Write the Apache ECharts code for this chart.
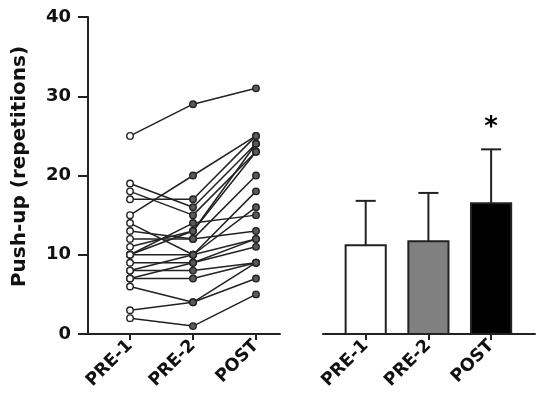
<!DOCTYPE html>
<html><head><meta charset="utf-8">
<script src="https://cdn.jsdelivr.net/npm/echarts@6/dist/echarts.min.js"></script>
<style>html,body{margin:0;padding:0;background:#fff}#c{width:543px;height:415px}</style>
</head><body><div id="c"></div>
<script>
const categories = ['PRE-1', 'PRE-2', 'POST'];
const pre1 = [25, 15, 17, 19, 18, 10, 11, 10, 13, 12, 14, 10, 8, 9, 7, 8, 7, 6, 3, 2];
const pre2 = [29, 20, 17, 16, 15, 14, 13, 13, 12, 12, 10, 10, 10, 9, 9, 8, 7, 4, 4, 1];
const post = [31, 25, 25, 24, 23, 15, 24, 23, 20, 13, 18, 16, 12, 12, 11, 9, 9, 9, 7, 5];
const barMeans = [11.2, 11.7, 16.5];
const barSD = [5.6, 6.1, 6.8];
const barColors = ['#ffffff', '#808080', '#000000'];
const sigMarks = ['', '', '*'];
const yTicks = [0, 10, 20, 30, 40];

const FONT = 'DejaVu Sans';
const INK = '#222';
const pointFill = ['#ffffff', '#5a5a5a', '#5a5a5a'];

const chart = echarts.init(document.getElementById('c'), null, {renderer: 'canvas'});

const lineSeries = pre1.map((v, i) => ({
  type: 'line',
  xAxisIndex: 0, yAxisIndex: 0,
  data: [pre1[i], pre2[i], post[i]].map((y, k) => ({
    value: [k, y],
    itemStyle: {color: pointFill[k], borderColor: INK, borderWidth: 1.4}
  })),
  symbol: 'circle', symbolSize: 6.5,
  lineStyle: {color: INK, width: 1.5},
  animation: false, silent: true
}));

const barSeries = {
  type: 'custom',
  xAxisIndex: 1, yAxisIndex: 1,
  data: barMeans.map((m, i) => [i, m, barSD[i]]),
  renderItem: function (params, api) {
    const i = params.dataIndex;
    const x = api.value(0), m = api.value(1), sd = api.value(2);
    const base = api.coord([x, 0]);
    const top = api.coord([x, m]);
    const et = api.coord([x, m + sd]);
    const unit = api.size([1, 0])[0];
    const w = unit * 0.64;
    const cap = unit * 0.32;
    const children = [
      {type: 'line', shape: {x1: top[0], y1: top[1], x2: et[0], y2: et[1]},
        style: {stroke: INK, lineWidth: 2}},
      {type: 'line', shape: {x1: et[0] - cap / 2, y1: et[1], x2: et[0] + cap / 2, y2: et[1]},
        style: {stroke: INK, lineWidth: 2}},
      {type: 'rect', shape: {x: base[0] - w / 2, y: top[1], width: w, height: base[1] - top[1]},
        style: {fill: barColors[i], stroke: INK, lineWidth: 2}}
    ];
    if (sigMarks[i]) {
      children.push({type: 'text', x: et[0], y: et[1] - 21,
        style: {text: sigMarks[i], fill: '#000', font: 'bold 26px ' + FONT, align: 'center', verticalAlign: 'middle'}});
    }
    return {type: 'group', children: children};
  },
  animation: false, silent: true
};

const axisLine = {show: true, onZero: false, lineStyle: {color: INK, width: 2}};
const xLabel = {customValues: [0, 1, 2], formatter: v => categories[Math.round(v)] || '',
  rotate: 45, margin: 9, fontFamily: FONT, fontWeight: 'bold', fontSize: 17.5, color: '#111'};

chart.setOption({
  animation: false,
  backgroundColor: '#fff',
  grid: [
    {left: 88, top: 17, width: 192, height: 317},
    {left: 323, top: 17, width: 212, height: 317}
  ],
  xAxis: [
    {type: 'value', gridIndex: 0, min: -0.667, max: 2.381,
      axisLine: axisLine, splitLine: {show: false},
      axisTick: {show: true, customValues: [0, 1, 2], length: 6, lineStyle: {color: INK, width: 2}},
      axisLabel: xLabel},
    {type: 'value', gridIndex: 1, min: -0.681, max: 2.700,
      axisLine: axisLine, splitLine: {show: false},
      axisTick: {show: true, customValues: [0, 1, 2], length: 6, lineStyle: {color: INK, width: 2}},
      axisLabel: xLabel}
  ],
  yAxis: [
    {type: 'value', gridIndex: 0, min: yTicks[0], max: yTicks[yTicks.length - 1], interval: 10,
      name: 'Push-up (repetitions)', nameLocation: 'middle', nameGap: 58,
      nameTextStyle: {fontFamily: FONT, fontWeight: 'bold', fontSize: 20, color: '#111', padding: [0, 0, 0, 18]},
      axisLine: axisLine, splitLine: {show: false},
      axisTick: {show: true, length: 10, lineStyle: {color: INK, width: 2}},
      axisLabel: {margin: 17, fontFamily: FONT, fontWeight: 'bold', fontSize: 18, color: '#111'}},
    {type: 'value', gridIndex: 1, min: yTicks[0], max: yTicks[yTicks.length - 1], interval: 10,
      show: false, splitLine: {show: false}}
  ],
  series: lineSeries.concat([barSeries])
});
</script>
</body></html>
